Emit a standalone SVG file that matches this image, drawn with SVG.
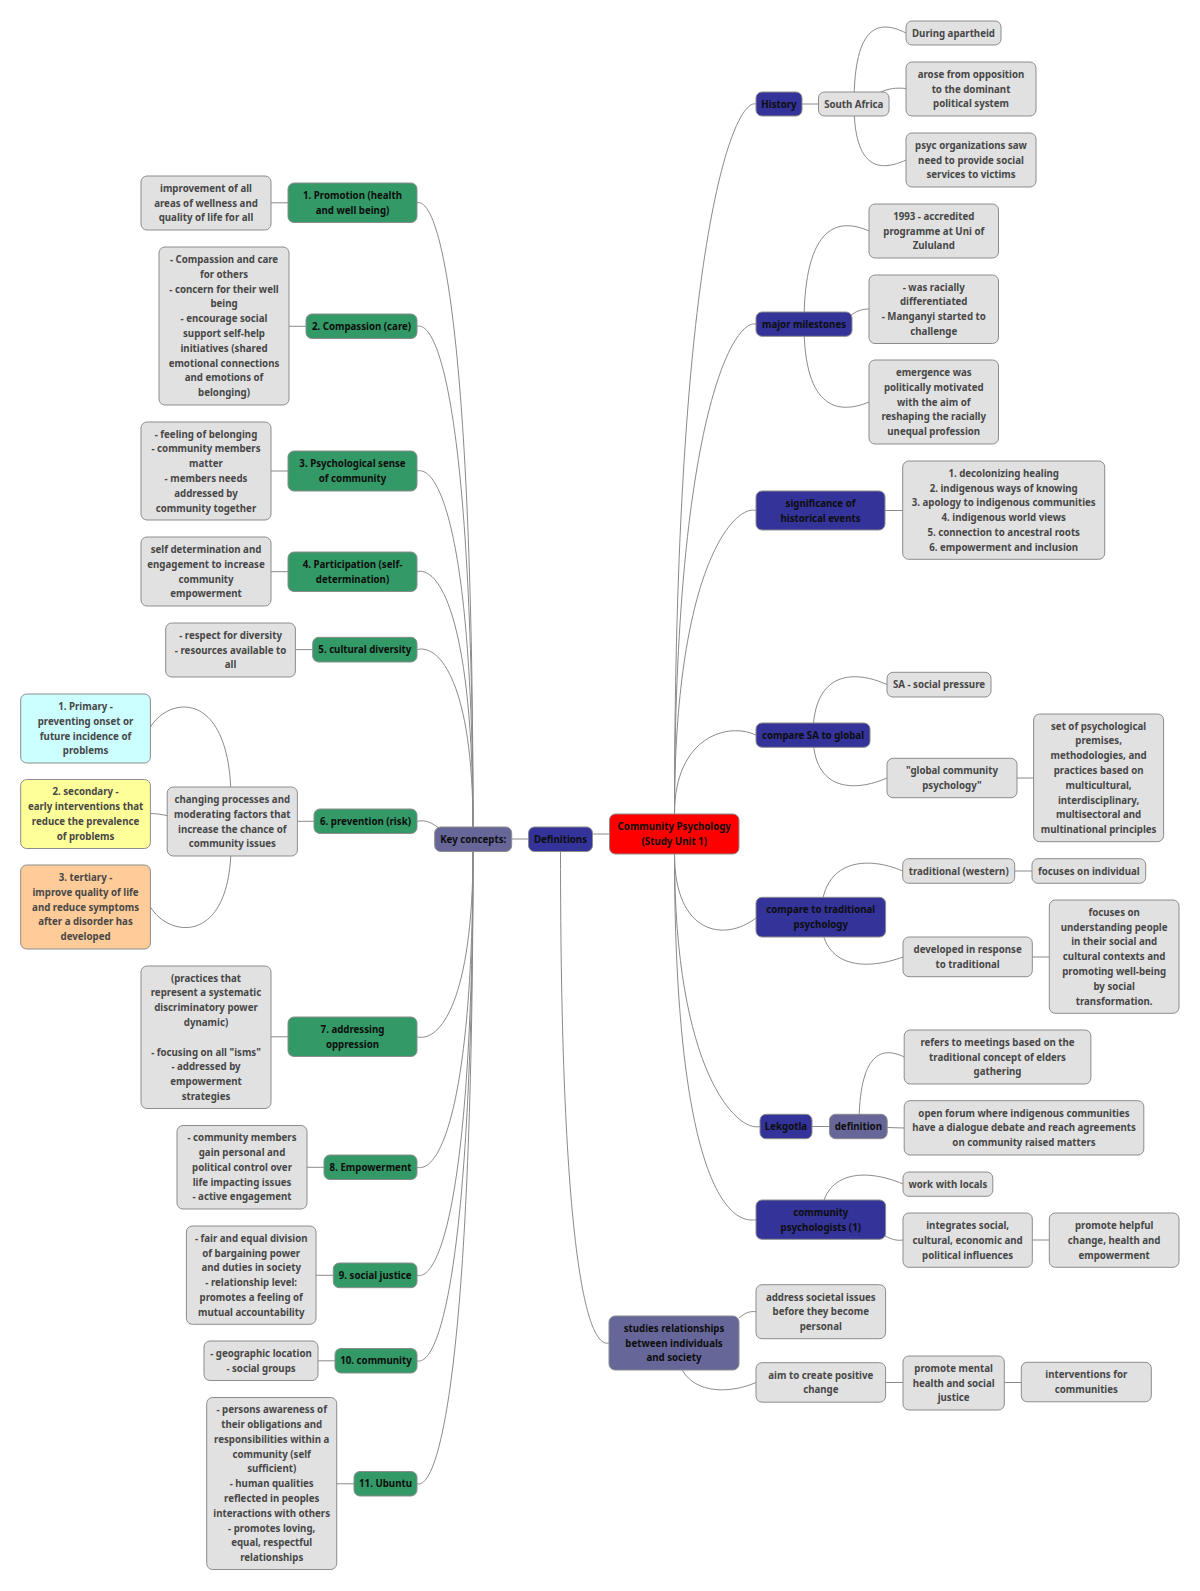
<svg xmlns="http://www.w3.org/2000/svg" width="1200" height="1591" viewBox="0 0 1200 1591">
<style>
rect{stroke:#8c8c8c;stroke-width:1}
.gy{fill:#e1e1e1}.bl{fill:#333399}.pu{fill:#666699}.gn{fill:#339966}.rd{fill:#ff0000}
.cy{fill:#ccffff}.ye{fill:#ffff99}.or{fill:#ffcc99}
text{font-family:"Noto Sans","Open Sans","DejaVu Sans",sans-serif;font-size:9.7px;font-weight:700;text-anchor:middle}
.lt{fill:#474747}.dk{fill:#0d0d0d}
#connectors path,#connectors line{fill:none;stroke:#8a8a8a;stroke-width:1}
</style>
<g id="connectors">
<line x1="592.4" y1="834" x2="609.5" y2="834"/>
<line x1="511.7" y1="839" x2="528.5" y2="839"/>
<path d="M609 1343 C586 1349 560.5 1245 560.5 851.7"/>
<path d="M417 202.8 C440 196.8 473 327.8 473 827"/>
<path d="M417 326.3 C440 320.3 473 426.4 473 827"/>
<path d="M417 471 C440 465 473 542.2 473 827"/>
<path d="M417 571.7 C440 565.7 473 622.8 473 827"/>
<path d="M417 649.6 C440 643.6 473 685.1 473 827"/>
<path d="M417 821.3 C427 819.5 432 823 440 829"/>
<path d="M417 1036.8 C440 1042.8 473 999.8 473 852"/>
<path d="M417 1167.3 C440 1173.3 473 1104.2 473 852"/>
<path d="M417 1275.3 C440 1281.3 473 1190.6 473 852"/>
<path d="M417 1360.8 C440 1366.8 473 1259 473 852"/>
<path d="M417 1483.8 C440 1489.8 473 1357.4 473 852"/>
<line x1="271" y1="202.8" x2="288" y2="202.8"/>
<line x1="289" y1="326.3" x2="306" y2="326.3"/>
<line x1="271" y1="471" x2="288" y2="471"/>
<line x1="271" y1="571.7" x2="288" y2="571.7"/>
<line x1="295.4" y1="649.6" x2="312.7" y2="649.6"/>
<line x1="297.4" y1="821.3" x2="314" y2="821.3"/>
<line x1="271" y1="1036.8" x2="288" y2="1036.8"/>
<line x1="307" y1="1167.3" x2="324" y2="1167.3"/>
<line x1="316" y1="1275.3" x2="333.3" y2="1275.3"/>
<line x1="318" y1="1360.8" x2="335" y2="1360.8"/>
<line x1="336.7" y1="1483.8" x2="354" y2="1483.8"/>
<path d="M150.4 727 C170 695 231 690 231 800"/>
<path d="M150.4 813.5 C156 813.5 161 814.5 167.2 815.5"/>
<path d="M150.4 907 C170 939 231 944 231 845"/>
<path d="M756 104 C733 98 674.5 246 674.5 814"/>
<path d="M756 324.2 C733 318.2 674.5 422.2 674.5 814"/>
<path d="M756 510.5 C733 504.5 674.5 571.2 674.5 814"/>
<path d="M756 735.2 C730 722 674.5 735 674.5 814"/>
<path d="M756 918 C725 942 674.5 935 674.5 854"/>
<path d="M760 1126.5 C737 1132.5 674.5 1072 674.5 854"/>
<path d="M756 1219.7 C720 1226 674.5 1150 674.5 854"/>
<line x1="801.7" y1="104" x2="818.5" y2="104"/>
<path d="M906 33 C880 20 854 22 854 104"/>
<path d="M880 92.5 C888 88.5 896 87.5 906 88.5"/>
<path d="M906 160 C880 172 854 170 854 104"/>
<path d="M869 231 C840 218 804 222 804 324"/>
<path d="M850 316 C856 311 862 309 869 309"/>
<path d="M869 402 C840 414 804 412 804 324"/>
<line x1="885" y1="510.5" x2="902.7" y2="510.5"/>
<path d="M887 684.6 C855 670 813 670 813 735"/>
<path d="M887 778 C855 792 813 792 813 735"/>
<line x1="1016.8" y1="778" x2="1033.6" y2="778"/>
<path d="M902.7 871 C868 856 821 858 821 917"/>
<path d="M903 957 C868 970 821 970 821 917"/>
<line x1="1014.7" y1="871" x2="1032" y2="871"/>
<line x1="1032.3" y1="957" x2="1049.3" y2="957"/>
<line x1="812" y1="1126.5" x2="829.5" y2="1126.5"/>
<path d="M904.2 1057 C882 1046 859 1052 859 1126"/>
<line x1="887.2" y1="1127.5" x2="904.2" y2="1128"/>
<path d="M903 1184 C866 1168 821 1170 821 1220"/>
<path d="M885 1236 C891 1239 896 1241 903 1240"/>
<line x1="1032.3" y1="1240" x2="1049.3" y2="1240"/>
<path d="M739 1318 C745 1313 749 1311 756 1311.7"/>
<path d="M756 1382.5 C725 1396 676 1395 676 1343"/>
<line x1="885.6" y1="1382.5" x2="903" y2="1382.5"/>
<line x1="1004.3" y1="1382.5" x2="1021.3" y2="1382.5"/>
</g>

<g id="root"><rect class="rd" x="609.5" y="814" width="129.5" height="40" rx="6"/><text class="dk" x="674.25" y="830.2">Community Psychology</text><text class="dk" x="674.25" y="845">(Study Unit 1)</text></g>
<g id="definitions"><rect class="bl" x="528.5" y="827" width="64" height="24.5" rx="6"/><text class="dk" x="560.5" y="842.85">Definitions</text></g>
<g id="key-concepts"><rect class="pu" x="434.7" y="827" width="77" height="24.5" rx="6"/><text class="dk" x="473.2" y="842.85">Key concepts:</text></g>

<g id="promotion"><rect class="gn" x="288" y="183" width="129" height="39.5" rx="6"/><text class="dk" x="352.5" y="198.95">1. Promotion (health</text><text class="dk" x="352.5" y="213.75">and well being)</text></g>
<g id="promotion-note"><rect class="gy" x="141" y="176" width="130" height="54" rx="6"/><text class="lt" x="206" y="191.8">improvement of all</text><text class="lt" x="206" y="206.6">areas of wellness and</text><text class="lt" x="206" y="221.4">quality of life for all</text></g>

<g id="compassion"><rect class="gn" x="306" y="314" width="111" height="24.5" rx="6"/><text class="dk" x="361.5" y="329.85">2. Compassion (care)</text></g>
<g id="compassion-note"><rect class="gy" x="159" y="247" width="130" height="158" rx="6"/><text class="lt" x="224" y="263">- Compassion and care</text><text class="lt" x="224" y="277.8">for others</text><text class="lt" x="224" y="292.6">- concern for their well</text><text class="lt" x="224" y="307.4">being</text><text class="lt" x="224" y="322.2">- encourage social</text><text class="lt" x="224" y="337">support self-help</text><text class="lt" x="224" y="351.8">initiatives (shared</text><text class="lt" x="224" y="366.6">emotional connections</text><text class="lt" x="224" y="381.4">and emotions of</text><text class="lt" x="224" y="396.2">belonging)</text></g>

<g id="sense"><rect class="gn" x="288" y="451" width="129" height="40" rx="6"/><text class="dk" x="352.5" y="467.2">3. Psychological sense</text><text class="dk" x="352.5" y="482">of community</text></g>
<g id="sense-note"><rect class="gy" x="141" y="422" width="130" height="98" rx="6"/><text class="lt" x="206" y="437.6">- feeling of belonging</text><text class="lt" x="206" y="452.4">- community members</text><text class="lt" x="206" y="467.2">matter</text><text class="lt" x="206" y="482">- members needs</text><text class="lt" x="206" y="496.8">addressed by</text><text class="lt" x="206" y="511.6">community together</text></g>

<g id="participation"><rect class="gn" x="288" y="552" width="129" height="39.5" rx="6"/><text class="dk" x="352.5" y="567.95">4. Participation (self-</text><text class="dk" x="352.5" y="582.75">determination)</text></g>
<g id="participation-note"><rect class="gy" x="141" y="537" width="130" height="69" rx="6"/><text class="lt" x="206" y="552.9">self determination and</text><text class="lt" x="206" y="567.7">engagement to increase</text><text class="lt" x="206" y="582.5">community</text><text class="lt" x="206" y="597.3">empowerment</text></g>

<g id="diversity"><rect class="gn" x="312.7" y="637.3" width="104.3" height="24.7" rx="6"/><text class="dk" x="364.85" y="653.25">5. cultural diversity</text></g>
<g id="diversity-note"><rect class="gy" x="165.7" y="623" width="129.7" height="54" rx="6"/><text class="lt" x="230.55" y="638.8">- respect for diversity</text><text class="lt" x="230.55" y="653.6">- resources available to</text><text class="lt" x="230.55" y="668.4">all</text></g>

<g id="prevention"><rect class="gn" x="314" y="809" width="103" height="24.5" rx="6"/><text class="dk" x="365.5" y="824.85">6. prevention (risk)</text></g>
<g id="prevention-note"><rect class="gy" x="167.2" y="787" width="130.2" height="69" rx="6"/><text class="lt" x="232.3" y="802.9">changing processes and</text><text class="lt" x="232.3" y="817.7">moderating factors that</text><text class="lt" x="232.3" y="832.5">increase the chance of</text><text class="lt" x="232.3" y="847.3">community issues</text></g>
<g id="primary"><rect class="cy" x="20.7" y="694" width="129.7" height="69" rx="6"/><text class="lt" x="85.55" y="709.9">1. Primary -</text><text class="lt" x="85.55" y="724.7">preventing onset or</text><text class="lt" x="85.55" y="739.5">future incidence of</text><text class="lt" x="85.55" y="754.3">problems</text></g>
<g id="secondary"><rect class="ye" x="20.7" y="779.5" width="129.7" height="69" rx="6"/><text class="lt" x="85.55" y="795.4">2. secondary -</text><text class="lt" x="85.55" y="810.2">early interventions that</text><text class="lt" x="85.55" y="825">reduce the prevalence</text><text class="lt" x="85.55" y="839.8">of problems</text></g>
<g id="tertiary"><rect class="or" x="20.7" y="865" width="129.7" height="84" rx="6"/><text class="lt" x="85.55" y="881">3. tertiary -</text><text class="lt" x="85.55" y="895.8">improve quality of life</text><text class="lt" x="85.55" y="910.6">and reduce symptoms</text><text class="lt" x="85.55" y="925.4">after a disorder has</text><text class="lt" x="85.55" y="940.2">developed</text></g>

<g id="oppression"><rect class="gn" x="288" y="1017" width="129" height="39.5" rx="6"/><text class="dk" x="352.5" y="1032.95">7. addressing</text><text class="dk" x="352.5" y="1047.75">oppression</text></g>
<g id="oppression-note"><rect class="gy" x="141" y="966" width="130" height="142.5" rx="6"/><text class="lt" x="206" y="981.65">(practices that</text><text class="lt" x="206" y="996.45">represent a systematic</text><text class="lt" x="206" y="1011.25">discriminatory power</text><text class="lt" x="206" y="1026.05">dynamic)</text><text class="lt" x="206" y="1055.65">- focusing on all "isms"</text><text class="lt" x="206" y="1070.45">- addressed by</text><text class="lt" x="206" y="1085.25">empowerment</text><text class="lt" x="206" y="1100.05">strategies</text></g>

<g id="empowerment"><rect class="gn" x="324" y="1155" width="93" height="24.5" rx="6"/><text class="dk" x="370.5" y="1170.85">8. Empowerment</text></g>
<g id="empowerment-note"><rect class="gy" x="177" y="1125.5" width="130" height="83.5" rx="6"/><text class="lt" x="242" y="1141.25">- community members</text><text class="lt" x="242" y="1156.05">gain personal and</text><text class="lt" x="242" y="1170.85">political control over</text><text class="lt" x="242" y="1185.65">life impacting issues</text><text class="lt" x="242" y="1200.45">- active engagement</text></g>

<g id="justice"><rect class="gn" x="333.3" y="1263" width="83.7" height="24.7" rx="6"/><text class="dk" x="375.15" y="1278.95">9. social justice</text></g>
<g id="justice-note"><rect class="gy" x="186.4" y="1226" width="129.6" height="98.3" rx="6"/><text class="lt" x="251.2" y="1241.75">- fair and equal division</text><text class="lt" x="251.2" y="1256.55">of bargaining power</text><text class="lt" x="251.2" y="1271.35">and duties in society</text><text class="lt" x="251.2" y="1286.15">- relationship level:</text><text class="lt" x="251.2" y="1300.95">promotes a feeling of</text><text class="lt" x="251.2" y="1315.75">mutual accountability</text></g>

<g id="community"><rect class="gn" x="335" y="1348.5" width="82" height="24.5" rx="6"/><text class="dk" x="376" y="1364.35">10. community</text></g>
<g id="community-note"><rect class="gy" x="204" y="1341" width="114" height="39.5" rx="6"/><text class="lt" x="261" y="1356.95">- geographic location</text><text class="lt" x="261" y="1371.75">- social groups</text></g>

<g id="ubuntu"><rect class="gn" x="354" y="1471.5" width="63" height="24.5" rx="6"/><text class="dk" x="385.5" y="1487.35">11. Ubuntu</text></g>
<g id="ubuntu-note"><rect class="gy" x="206.7" y="1397.5" width="130" height="172" rx="6"/><text class="lt" x="271.7" y="1413.1">- persons awareness of</text><text class="lt" x="271.7" y="1427.9">their obligations and</text><text class="lt" x="271.7" y="1442.7">responsibilities within a</text><text class="lt" x="271.7" y="1457.5">community (self</text><text class="lt" x="271.7" y="1472.3">sufficient)</text><text class="lt" x="271.7" y="1487.1">- human qualities</text><text class="lt" x="271.7" y="1501.9">reflected in peoples</text><text class="lt" x="271.7" y="1516.7">interactions with others</text><text class="lt" x="271.7" y="1531.5">- promotes loving,</text><text class="lt" x="271.7" y="1546.3">equal, respectful</text><text class="lt" x="271.7" y="1561.1">relationships</text></g>

<g id="history"><rect class="bl" x="756" y="92" width="46" height="24" rx="6"/><text class="dk" x="779" y="107.6">History</text></g>
<g id="south-africa"><rect class="gy" x="818.5" y="92" width="70.5" height="24" rx="6"/><text class="lt" x="853.75" y="107.6">South Africa</text></g>
<g id="apartheid"><rect class="gy" x="906" y="21" width="95" height="24" rx="6"/><text class="lt" x="953.5" y="36.6">During apartheid</text></g>
<g id="opposition"><rect class="gy" x="906" y="62" width="130" height="54" rx="6"/><text class="lt" x="971" y="77.8">arose from opposition</text><text class="lt" x="971" y="92.6">to the dominant</text><text class="lt" x="971" y="107.4">political system</text></g>
<g id="psyc-orgs"><rect class="gy" x="906" y="133" width="130" height="54" rx="6"/><text class="lt" x="971" y="148.8">psyc organizations saw</text><text class="lt" x="971" y="163.6">need to provide social</text><text class="lt" x="971" y="178.4">services to victims</text></g>

<g id="milestones"><rect class="bl" x="756" y="312" width="96" height="24.3" rx="6"/><text class="dk" x="804" y="327.75">major milestones</text></g>
<g id="m1993"><rect class="gy" x="869" y="204" width="129.5" height="54" rx="6"/><text class="lt" x="933.75" y="219.8">1993 - accredited</text><text class="lt" x="933.75" y="234.6">programme at Uni of</text><text class="lt" x="933.75" y="249.4">Zululand</text></g>
<g id="racially"><rect class="gy" x="869" y="275" width="129.5" height="68.5" rx="6"/><text class="lt" x="933.75" y="290.65">- was racially</text><text class="lt" x="933.75" y="305.45">differentiated</text><text class="lt" x="933.75" y="320.25">- Manganyi started to</text><text class="lt" x="933.75" y="335.05">challenge</text></g>
<g id="emergence"><rect class="gy" x="869" y="360" width="129.5" height="84" rx="6"/><text class="lt" x="933.75" y="376">emergence was</text><text class="lt" x="933.75" y="390.8">politically motivated</text><text class="lt" x="933.75" y="405.6">with the aim of</text><text class="lt" x="933.75" y="420.4">reshaping the racially</text><text class="lt" x="933.75" y="435.2">unequal profession</text></g>

<g id="significance"><rect class="bl" x="756" y="491" width="129" height="39" rx="6"/><text class="dk" x="820.5" y="506.7">significance of</text><text class="dk" x="820.5" y="521.5">historical events</text></g>
<g id="significance-list"><rect class="gy" x="902.7" y="461" width="202" height="98.3" rx="6"/><text class="lt" x="1003.7" y="476.75">1. decolonizing healing</text><text class="lt" x="1003.7" y="491.55">2. indigenous ways of knowing</text><text class="lt" x="1003.7" y="506.35">3. apology to indigenous communities</text><text class="lt" x="1003.7" y="521.15">4. indigenous world views</text><text class="lt" x="1003.7" y="535.95">5. connection to ancestral roots</text><text class="lt" x="1003.7" y="550.75">6. empowerment and inclusion</text></g>

<g id="compare-global"><rect class="bl" x="756" y="723" width="114" height="24.3" rx="6"/><text class="dk" x="813" y="738.75">compare SA to global</text></g>
<g id="social-pressure"><rect class="gy" x="887" y="672.3" width="104" height="24.7" rx="6"/><text class="lt" x="939" y="688.25">SA - social pressure</text></g>
<g id="global-cp"><rect class="gy" x="887" y="758.3" width="130" height="39.4" rx="6"/><text class="lt" x="952" y="774.2">"global community</text><text class="lt" x="952" y="789">psychology"</text></g>
<g id="global-def"><rect class="gy" x="1033.6" y="714" width="130" height="127.7" rx="6"/><text class="lt" x="1098.6" y="729.65">set of psychological</text><text class="lt" x="1098.6" y="744.45">premises,</text><text class="lt" x="1098.6" y="759.25">methodologies, and</text><text class="lt" x="1098.6" y="774.05">practices based on</text><text class="lt" x="1098.6" y="788.85">multicultural,</text><text class="lt" x="1098.6" y="803.65">interdisciplinary,</text><text class="lt" x="1098.6" y="818.45">multisectoral and</text><text class="lt" x="1098.6" y="833.25">multinational principles</text></g>

<g id="compare-traditional"><rect class="bl" x="756" y="897.3" width="129.6" height="39.7" rx="6"/><text class="dk" x="820.8" y="913.35">compare to traditional</text><text class="dk" x="820.8" y="928.15">psychology</text></g>
<g id="traditional-western"><rect class="gy" x="902.7" y="858.7" width="112" height="24.6" rx="6"/><text class="lt" x="958.7" y="874.6">traditional (western)</text></g>
<g id="focus-individual"><rect class="gy" x="1032" y="858.7" width="113.7" height="24.6" rx="6"/><text class="lt" x="1088.85" y="874.6">focuses on individual</text></g>
<g id="developed"><rect class="gy" x="903" y="937" width="129.3" height="39.7" rx="6"/><text class="lt" x="967.65" y="953.05">developed in response</text><text class="lt" x="967.65" y="967.85">to traditional</text></g>
<g id="focus-understanding"><rect class="gy" x="1049.3" y="900" width="129.7" height="113.3" rx="6"/><text class="lt" x="1114.15" y="915.85">focuses on</text><text class="lt" x="1114.15" y="930.65">understanding people</text><text class="lt" x="1114.15" y="945.45">in their social and</text><text class="lt" x="1114.15" y="960.25">cultural contexts and</text><text class="lt" x="1114.15" y="975.05">promoting well-being</text><text class="lt" x="1114.15" y="989.85">by social</text><text class="lt" x="1114.15" y="1004.65">transformation.</text></g>

<g id="lekgotla"><rect class="bl" x="760" y="1114.3" width="52" height="24.4" rx="6"/><text class="dk" x="786" y="1130.1">Lekgotla</text></g>
<g id="lek-definition"><rect class="pu" x="829.5" y="1114.3" width="57.7" height="24.4" rx="6"/><text class="dk" x="858.35" y="1130.1">definition</text></g>
<g id="meetings"><rect class="gy" x="904.2" y="1030" width="186.7" height="54" rx="6"/><text class="lt" x="997.55" y="1045.8">refers to meetings based on the</text><text class="lt" x="997.55" y="1060.6">traditional concept of elders</text><text class="lt" x="997.55" y="1075.4">gathering</text></g>
<g id="open-forum"><rect class="gy" x="904.2" y="1100.7" width="239.6" height="54.3" rx="6"/><text class="lt" x="1024" y="1116.65">open forum where indigenous communities</text><text class="lt" x="1024" y="1131.45">have a dialogue debate and reach agreements</text><text class="lt" x="1024" y="1146.25">on community raised matters</text></g>

<g id="community-psychologists"><rect class="bl" x="756" y="1200" width="129.6" height="39.3" rx="6"/><text class="dk" x="820.8" y="1215.85">community</text><text class="dk" x="820.8" y="1230.65">psychologists (1)</text></g>
<g id="locals"><rect class="gy" x="903" y="1172" width="89.8" height="24.3" rx="6"/><text class="lt" x="947.9" y="1187.75">work with locals</text></g>
<g id="integrates"><rect class="gy" x="903" y="1213" width="129.3" height="54.3" rx="6"/><text class="lt" x="967.65" y="1228.95">integrates social,</text><text class="lt" x="967.65" y="1243.75">cultural, economic and</text><text class="lt" x="967.65" y="1258.55">political influences</text></g>
<g id="helpful-change"><rect class="gy" x="1049.3" y="1213" width="129.7" height="54.3" rx="6"/><text class="lt" x="1114.15" y="1228.95">promote helpful</text><text class="lt" x="1114.15" y="1243.75">change, health and</text><text class="lt" x="1114.15" y="1258.55">empowerment</text></g>

<g id="studies"><rect class="pu" x="609" y="1316" width="130" height="54" rx="6"/><text class="dk" x="674" y="1331.8">studies relationships</text><text class="dk" x="674" y="1346.6">between individuals</text><text class="dk" x="674" y="1361.4">and society</text></g>
<g id="societal"><rect class="gy" x="756" y="1284.7" width="129.6" height="54" rx="6"/><text class="lt" x="820.8" y="1300.5">address societal issues</text><text class="lt" x="820.8" y="1315.3">before they become</text><text class="lt" x="820.8" y="1330.1">personal</text></g>
<g id="positive-change"><rect class="gy" x="756" y="1362.7" width="129.6" height="39.5" rx="6"/><text class="lt" x="820.8" y="1378.65">aim to create positive</text><text class="lt" x="820.8" y="1393.45">change</text></g>
<g id="mental-health"><rect class="gy" x="903" y="1356" width="101.3" height="54" rx="6"/><text class="lt" x="953.65" y="1371.8">promote mental</text><text class="lt" x="953.65" y="1386.6">health and social</text><text class="lt" x="953.65" y="1401.4">justice</text></g>
<g id="interventions"><rect class="gy" x="1021.3" y="1362.3" width="130" height="39.5" rx="6"/><text class="lt" x="1086.3" y="1378.25">interventions for</text><text class="lt" x="1086.3" y="1393.05">communities</text></g>
</svg>
